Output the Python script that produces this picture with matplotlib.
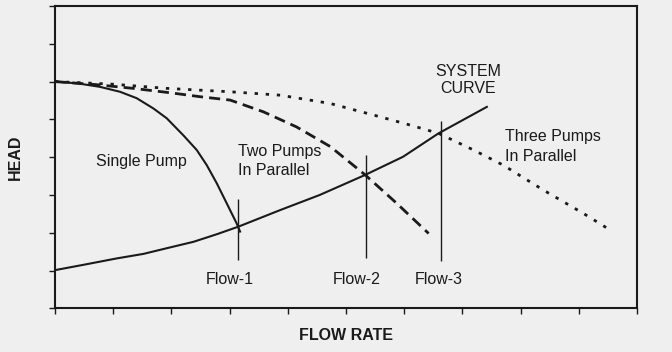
import matplotlib
matplotlib.use("Agg")
import matplotlib.pyplot as plt
import numpy as np

plt.rcParams['font.family'] = ['Liberation Sans', 'DejaVu Sans']

# Single pump curve
single_x = [0.0, 0.4, 0.773, 1.117, 1.404, 1.689, 1.919, 2.204, 2.435, 2.607, 2.779, 2.95, 3.12, 3.18]
single_y = [6.0, 5.95, 5.86, 5.73, 5.56, 5.29, 5.03, 4.58, 4.19, 3.79, 3.31, 2.78, 2.25, 2.03]

# Two pumps in parallel
two_x = [0.0, 0.7, 1.345, 2.0, 2.49, 3.01, 3.58, 4.15, 4.73, 5.33, 5.87, 6.42]
two_y = [6.0, 5.92, 5.82, 5.70, 5.60, 5.51, 5.20, 4.80, 4.28, 3.53, 2.78, 1.98]

# Three pumps in parallel
three_x = [0.0, 1.0, 1.92, 3.01, 3.87, 4.73, 5.58, 6.10, 6.59, 7.19, 7.70, 8.39, 9.08, 9.54]
three_y = [6.0, 5.93, 5.82, 5.73, 5.64, 5.42, 5.07, 4.85, 4.63, 4.19, 3.79, 3.13, 2.51, 2.07]

# System curve
sys_x = [0.0, 0.486, 1.06, 1.52, 1.92, 2.38, 2.78, 3.15, 3.87, 4.55, 5.33, 5.98, 6.59, 7.42]
sys_y = [1.01, 1.15, 1.32, 1.44, 1.59, 1.76, 1.96, 2.16, 2.60, 3.00, 3.53, 4.01, 4.63, 5.33]

# Operating points (vertical markers)
flow_x = [3.14, 5.34, 6.63]
flow_ylo = [1.28, 1.32, 1.25]
flow_yhi = [2.88, 4.06, 4.96]
flow_labels = ["Flow-1", "Flow-2", "Flow-3"]
flow_label_x = [3.0, 5.18, 6.59]

bg = '#efefef'
ink = '#1a1a1a'
fs = 11.5

fig = plt.figure(figsize=(6.72, 3.52), dpi=100, facecolor=bg)
ax = fig.add_axes([55/672, (352-308.3)/352, (637-55)/672, (308.3-6)/352])
ax.set_facecolor(bg)

ax.plot(single_x, single_y, color=ink, lw=1.5)
ax.plot(sys_x, sys_y, color=ink, lw=1.5)
ax.plot(two_x, two_y, color=ink, lw=2.0, dashes=(4, 2.2))
ax.plot(three_x, three_y, color=ink, lw=2.0, dashes=(1.2, 2.8))

ax.vlines(flow_x, flow_ylo, flow_yhi, color=ink, lw=1.0)
for lx, lab in zip(flow_label_x, flow_labels):
    ax.text(lx, 0.75, lab, ha='center', va='center', fontsize=fs, color=ink)

ax.text(0.71, 3.88, "Single Pump", ha='left', va='center', fontsize=fs, color=ink)
ax.text(3.15, 3.9, "Two Pumps\nIn Parallel", ha='left', va='center', fontsize=fs,
        color=ink, linespacing=1.4)
ax.text(7.10, 6.04, "SYSTEM\nCURVE", ha='center', va='center', fontsize=fs,
        color=ink, linespacing=1.15)
ax.text(7.74, 4.28, "Three Pumps\nIn Parallel", ha='left', va='center', fontsize=fs,
        color=ink, linespacing=1.4)

ax.set_xlim(0, 10)
ax.set_ylim(0, 8)
ax.set_xticks(np.arange(0, 11, 1))
ax.set_yticks(np.arange(0, 9, 1))
ax.set_xticklabels([])
ax.set_yticklabels([])
ax.tick_params(direction='out', length=4, width=1.0, color=ink)
for s in ax.spines.values():
    s.set_color(ink)
    s.set_linewidth(1.5)

fig.text(346/672, 1 - 336/352, "FLOW RATE", ha='center', va='center',
         fontsize=11.5, fontweight='bold', color=ink)
fig.text(15/672, 1 - 157/352, "HEAD", ha='center', va='center', rotation=90,
         fontsize=11.5, fontweight='bold', color=ink)

fig.savefig("out.png", dpi=100, facecolor=bg)
